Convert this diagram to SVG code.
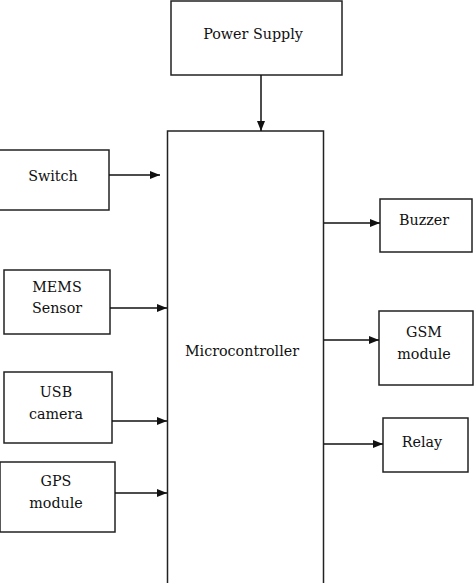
<svg xmlns="http://www.w3.org/2000/svg" width="474" height="583" viewBox="0 0 474 583">
<defs>
<marker id="arr" markerWidth="10" markerHeight="8" refX="10" refY="4" orient="auto" markerUnits="userSpaceOnUse">
<path d="M0,0 L10,4 L0,8 Z" fill="#111"/>
</marker>
</defs>
<style>
.box{fill:#fff;stroke:#222;stroke-width:1.5}
.t{font-family:"DejaVu Serif",serif;font-size:14.3px;fill:#111;text-anchor:middle}
.c{stroke:#111;stroke-width:1.5;fill:none;marker-end:url(#arr)}
</style>
<rect width="474" height="583" fill="#fff"/>
<g id="power"><rect class="box" x="171" y="1" width="171" height="74"/><text class="t" x="253" y="39">Power Supply</text></g>
<g id="mcu"><rect class="box" x="167.5" y="131" width="156" height="460"/><text class="t" x="242" y="356">Microcontroller</text></g>
<g id="switch"><rect class="box" x="-1" y="150" width="110" height="60"/><text class="t" x="53" y="181">Switch</text></g>
<g id="mems"><rect class="box" x="4" y="270" width="106" height="64"/><text class="t" x="57" y="292">MEMS</text><text class="t" x="57" y="313">Sensor</text></g>
<g id="usb"><rect class="box" x="4" y="372" width="108" height="71"/><text class="t" x="56" y="397">USB</text><text class="t" x="56" y="419">camera</text></g>
<g id="gps"><rect class="box" x="0" y="462" width="115" height="70"/><text class="t" x="56" y="486">GPS</text><text class="t" x="56" y="508">module</text></g>
<g id="buzzer"><rect class="box" x="380" y="199" width="92" height="53"/><text class="t" x="424" y="225">Buzzer</text></g>
<g id="gsm"><rect class="box" x="379" y="311" width="94" height="74"/><text class="t" x="424" y="337">GSM</text><text class="t" x="424" y="359">module</text></g>
<g id="relay"><rect class="box" x="383" y="418" width="85" height="54"/><text class="t" x="422" y="447">Relay</text></g>
<g id="connectors">
<line class="c" x1="261" y1="75" x2="261" y2="131"/>
<line class="c" x1="109" y1="175" x2="160" y2="175"/>
<line class="c" x1="110" y1="308" x2="167" y2="308"/>
<line class="c" x1="112" y1="421" x2="167" y2="421"/>
<line class="c" x1="115" y1="493" x2="167" y2="493"/>
<line class="c" x1="324" y1="223" x2="380" y2="223"/>
<line class="c" x1="324" y1="340" x2="379" y2="340"/>
<line class="c" x1="324" y1="444" x2="383" y2="444"/>
</g>
</svg>
